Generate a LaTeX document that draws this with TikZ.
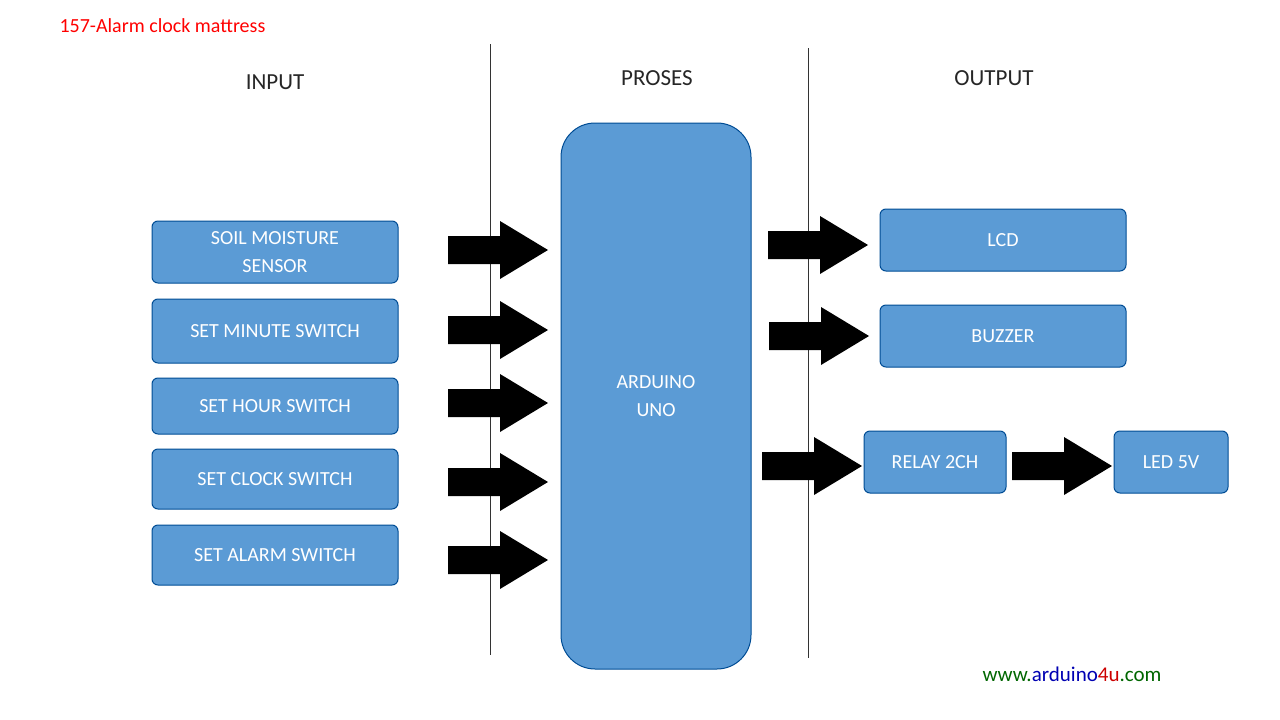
\documentclass[tikz,border=0pt]{standalone}
\usepackage{fontspec}
\setmainfont{Carlito}
\begin{document}
\begin{tikzpicture}[x=1pt,y=-1pt,
 box/.style={draw=blue!40!black!70!cyan, line width=1pt, fill=boxc, rounded corners=6pt, text=white, align=center, inner sep=0pt, font=\fontsize{20}{28}\selectfont},
 head/.style={font=\fontsize{23}{28}\selectfont, text=black!85}]
\definecolor{boxc}{HTML}{5B9BD5}
\useasboundingbox (0,0) rectangle (1280,720);
\newcommand{\barrow}[3]{\fill[black] (#1,#3-14) -- ({#2-48},#3-14) -- ({#2-48},#3-29) -- (#2,#3) -- ({#2-48},#3+29) -- ({#2-48},#3+14) -- (#1,#3+14) -- cycle;}
\node[anchor=west, text=red, font=\fontsize{20}{24}\selectfont] (title) at (56,26) {157-Alarm clock mattress};
\node[head] (hin) at (275,82) {INPUT};
\node[head] (hpr) at (657,78) {PROSES};
\node[head] (hout) at (994,78) {OUTPUT};
\draw[black!80] (490,44) -- (490,655);
\draw[black!80] (808,48) -- (808,658);
\node[box, minimum width=246pt, minimum height=62pt] (s1) at (275,252) {SOIL MOISTURE\\SENSOR};
\node[box, minimum width=246pt, minimum height=64pt] (s2) at (275,331) {SET MINUTE SWITCH};
\node[box, minimum width=246pt, minimum height=56pt] (s3) at (275,406) {SET HOUR SWITCH};
\node[box, minimum width=246pt, minimum height=60pt] (s4) at (275,479) {SET CLOCK SWITCH};
\node[box, minimum width=246pt, minimum height=60pt] (s5) at (275,555) {SET ALARM SWITCH};
\node[box, rounded corners=34pt, minimum width=190pt, minimum height=546pt] (ard) at (656,396) {ARDUINO\\UNO};
\node[box, minimum width=246pt, minimum height=62pt] (lcd) at (1003,240) {LCD};
\node[box, minimum width=246pt, minimum height=62pt] (buz) at (1003,336) {BUZZER};
\node[box, minimum width=142pt, minimum height=62pt] (rel) at (935,462) {RELAY 2CH};
\node[box, minimum width=114pt, minimum height=62pt] (led) at (1171,462) {LED 5V};
\barrow{448}{548}{250}
\barrow{448}{548}{330}
\barrow{448}{548}{403}
\barrow{448}{548}{482}
\barrow{448}{548}{560}
\barrow{768}{868}{245}
\barrow{769}{869}{336}
\barrow{762}{862}{466}
\barrow{1012}{1112}{466}
\node[font=\fontsize{21}{24}\selectfont] (web) at (1072,674) {\textcolor{green!40!black}{www.}\textcolor{blue!70!black}{arduino}\textcolor{red!80!black}{4u}\textcolor{green!40!black}{.com}};
\end{tikzpicture}
\end{document}
